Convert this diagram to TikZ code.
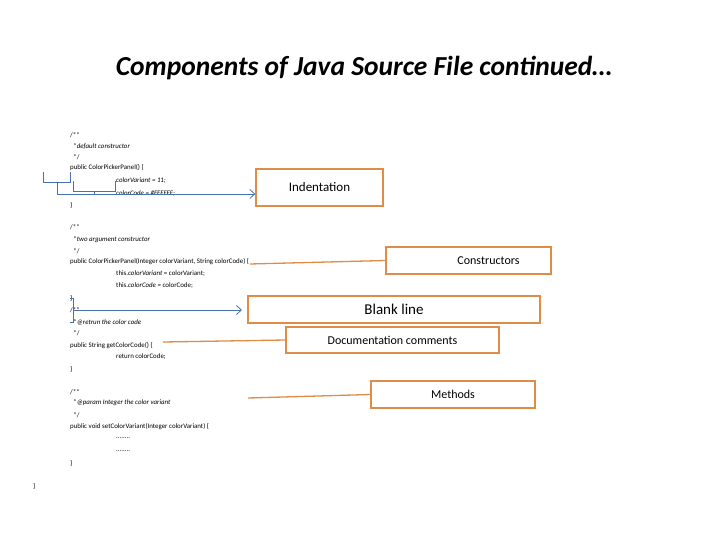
\documentclass[tikz,border=0pt]{standalone}
\usepackage{fontspec}
\setmainfont{Carlito}
\usetikzlibrary{arrows.meta}
\definecolor{bord}{RGB}{222,140,70}
\definecolor{blu}{RGB}{70,115,175}
\begin{document}
\begin{tikzpicture}[x=1pt,y=-1pt,
  code/.style={anchor=west,inner sep=0,font=\fontsize{6.9}{8}\selectfont},
  lbl/.style={draw=bord,line width=1.3pt,inner sep=0},
  oline/.style={draw=bord,line width=1.3pt},
  bline/.style={draw=blu,line width=0.8pt},
  barrow/.style={bline,-{Straight Barb[length=5pt,width=9pt]}}]
\useasboundingbox (0,0) rectangle (728,546);
\node[font=\fontsize{27.5}{30}\selectfont\bfseries\itshape] (title) at (364,68) {Components of Java Source File continued…};
% code
\foreach \t/\x/\y [count=\i] in {
 {/**}/70/135, {\ \ *\textit{default constructor}}/70/146, {\ \ */}/70/157,
 {public ColorPickerPanel() \{}/70/168, {\textit{colorVariant = 11;}}/116/181,
 {\textit{colorCode = \#FFFFFF;}}/116/194, {\}}/70/205,
 {/**}/70/227, {\ \ *\textit{two argument constructor}}/70/240, {\ \ */}/70/251,
 {public ColorPickerPanel(Integer colorVariant, String colorCode) \{}/70/262,
 {this.\textit{colorVariant} = colorVariant;}/116/274,
 {this.\textit{colorCode} = colorCode;}/116/286, {\}}/70/298,
 {/**}/70/310, {\ \ *\textit{@retrun the color code}}/70/322, {\ \ */}/70/333,
 {public String getColorCode() \{}/70/346, {return colorCode;}/116/357, {\}}/70/369,
 {/**}/70/392, {\ \ *\textit{@param Integer the color variant}}/70/403, {\ \ */}/70/415,
 {public void setColorVariant(Integer colorVariant) \{}/70/427,
 {........}/116/438, {........}/116/451, {\}}/70/463, {\}}/33/486}
 \node[code] (c\i) at (\x,\y) {\t};
% boxes
\node[lbl,minimum width=127pt,minimum height=37pt,font=\fontsize{13}{15}\selectfont] (ind) at (319.5,187.5) {Indentation};
\node[lbl,minimum width=165pt,minimum height=27pt,font=\fontsize{12}{14}\selectfont] (con) at (468.5,260.5) {\hspace*{40pt}Constructors};
\node[lbl,minimum width=292pt,minimum height=27pt,font=\fontsize{15}{17}\selectfont] (blank) at (394,309.5) {Blank line};
\node[lbl,minimum width=213pt,minimum height=26pt,font=\fontsize{12}{14}\selectfont] (doc) at (392.5,340) {Documentation comments};
\node[lbl,minimum width=164pt,minimum height=27pt,font=\fontsize{12}{14}\selectfont] (meth) at (453,394.5) {Methods};
% orange connectors
\coordinate (co) at (250,264);
\coordinate (dc) at (163,342);
\coordinate (mt) at (248,398);
\draw[oline] (co) -- (con.west);
\draw[oline] (dc) -- (doc.west);
\draw[oline] (mt) -- (meth.west);
% indentation braces
\coordinate (b1) at (57,194);
\draw[bline] (43,172) -- (43,182) -- (70,182) -- (70,172);
\draw[bline] (57,182) -- (b1);
\draw[bline] (73,181) -- (73,191) -- (115,191) -- (115,181);
\draw[bline] (94,191) -- (94,194);
\draw[barrow] (b1) -- (ind.west |- b1);
% blank line bracket
\coordinate (bl) at (73,310);
\draw[bline] (70,298) -- (73,298) -- (73,322) -- (70,322);
\draw[barrow] (bl) -- (242,310);
\end{tikzpicture}
\end{document}
